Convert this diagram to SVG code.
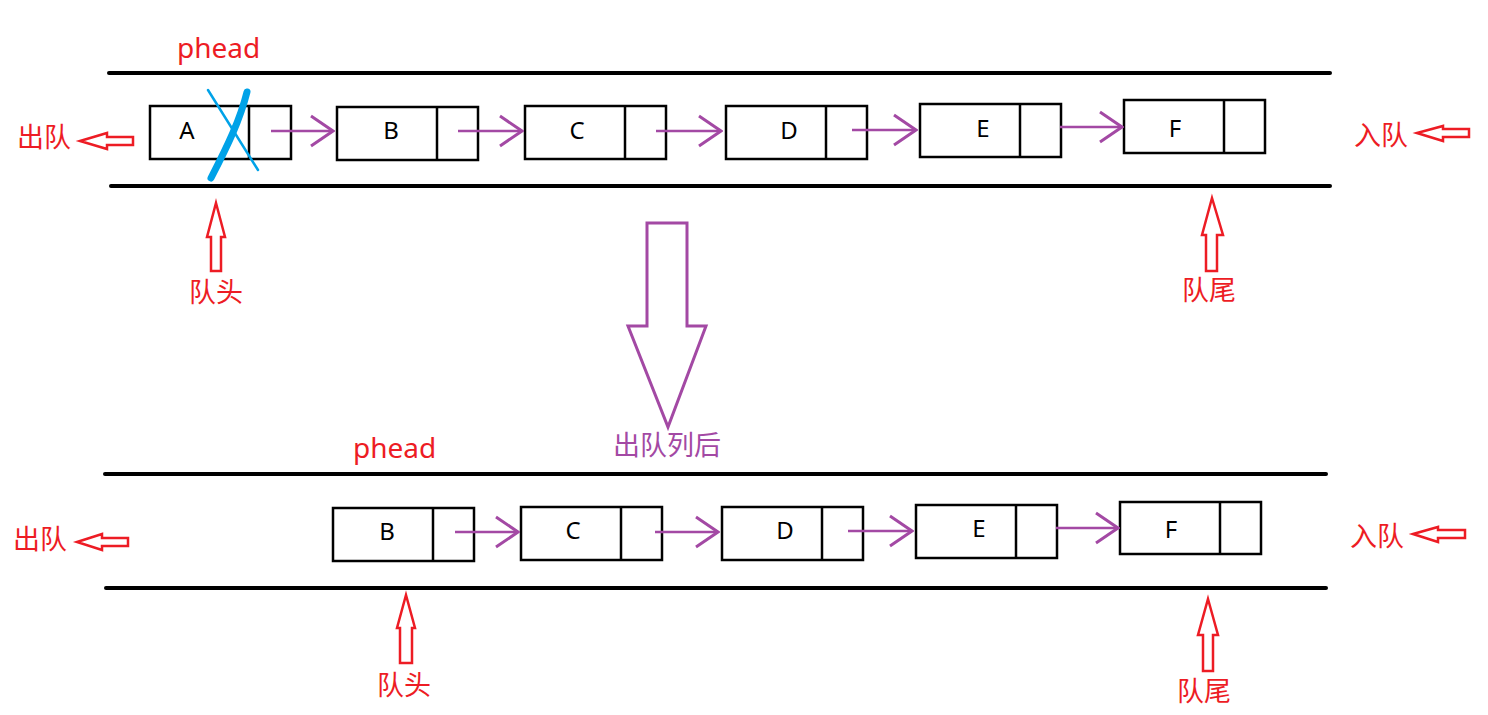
<svg xmlns="http://www.w3.org/2000/svg" width="1488" height="715" viewBox="0 0 1488 715">
<style>
.rail{stroke:#000;stroke-width:4;stroke-linecap:round}
.box{fill:#fff;stroke:#000;stroke-width:2.5}
.div{stroke:#000;stroke-width:2.5}
.lbl{font-family:"Noto Sans","Liberation Sans",sans-serif;font-size:24px;fill:#000;text-anchor:middle}
.red{font-family:"Noto Sans","Noto Sans CJK SC",sans-serif;font-size:27px;fill:#ed1c24}
.ph{font-family:"Noto Sans","Liberation Sans",sans-serif;font-size:28px;fill:#ed1c24}
.pur{font-family:"Noto Sans","Noto Sans CJK SC",sans-serif;font-size:27px;fill:#a349a4}
.hollow{fill:#fff;stroke:#ed1c24;stroke-width:2.5}
.link{stroke:#a349a4;stroke-width:2.5;fill:none;marker-end:url(#ah)}
</style>
<defs>
<marker id="ah" viewBox="0 0 26 34" refX="24" refY="17" markerWidth="26" markerHeight="34" markerUnits="userSpaceOnUse" orient="auto">
<path d="M2,2 L24,17 L2,32" fill="none" stroke="#a349a4" stroke-width="3"/>
</marker>
</defs>
<g id="rails">
<line class="rail" x1="109" y1="73" x2="1330" y2="73"/>
<line class="rail" x1="111" y1="186" x2="1330" y2="186"/>
<line class="rail" x1="105" y1="474" x2="1326" y2="474"/>
<line class="rail" x1="106" y1="588" x2="1326" y2="588"/>
</g>
<g id="labels">
<text class="ph" x="177" y="58">phead</text>
<text class="ph" x="353" y="458">phead</text>
<text class="red" x="17" y="147">出队</text>
<text class="red" x="13" y="549">出队</text>
<text class="red" x="1354" y="145">入队</text>
<text class="red" x="1350" y="546">入队</text>
<text class="red" x="189" y="302">队头</text>
<text class="red" x="377" y="695">队头</text>
<text class="red" x="1182" y="300">队尾</text>
<text class="red" x="1177" y="701">队尾</text>
<text class="pur" x="613" y="455">出队列后</text>
</g>
<g id="red-arrows">
<path class="hollow" d="M80,141 L107,133 L107,137 L133,137 L133,145 L107,145 L107,149 Z"/>
<path class="hollow" d="M77,542 L102,534 L102,538 L128,538 L128,546 L102,546 L102,550 Z"/>
<path class="hollow" d="M1417,133 L1443,126 L1443,129 L1469,129 L1469,137 L1443,137 L1443,141 Z"/>
<path class="hollow" d="M1413,534 L1438,527 L1438,530 L1465,530 L1465,538 L1438,538 L1438,542 Z"/>
<path class="hollow" d="M216,203 L225,237 L221,237 L221,271 L211,271 L211,237 L207,237 Z"/>
<path class="hollow" d="M406,595 L415,628 L412,628 L412,663 L400,663 L400,628 L397,628 Z"/>
<path class="hollow" d="M1212,198 L1223,235 L1217,235 L1217,271 L1206,271 L1206,235 L1202,235 Z"/>
<path class="hollow" d="M1208,599 L1218,635 L1213,635 L1213,671 L1203,671 L1203,635 L1198,635 Z"/>
</g>
<g id="big-arrow">
<path d="M647,223 L687,223 L687,326 L706,326 L668,427 L628,326 L647,326 Z" fill="#fff" stroke="#a349a4" stroke-width="3"/>
</g>
<g id="node-A"><rect class="box" x="150" y="106" width="141" height="53"/><line class="div" x1="249" y1="106" x2="249" y2="159"/><text class="lbl" x="187" y="139">A</text></g>
<g id="node-B1"><rect class="box" x="337" y="107" width="141" height="53"/><line class="div" x1="437" y1="107" x2="437" y2="160"/><text class="lbl" x="391" y="139">B</text></g>
<g id="node-C1"><rect class="box" x="525" y="106" width="141" height="53"/><line class="div" x1="625" y1="106" x2="625" y2="159"/><text class="lbl" x="577" y="139">C</text></g>
<g id="node-D1"><rect class="box" x="726" y="106" width="141" height="53"/><line class="div" x1="826" y1="106" x2="826" y2="159"/><text class="lbl" x="789" y="139">D</text></g>
<g id="node-E1"><rect class="box" x="920" y="104" width="141" height="53"/><line class="div" x1="1020" y1="104" x2="1020" y2="157"/><text class="lbl" x="983" y="137">E</text></g>
<g id="node-F1"><rect class="box" x="1124" y="100" width="141" height="53"/><line class="div" x1="1224" y1="100" x2="1224" y2="153"/><text class="lbl" x="1175" y="137">F</text></g>
<g id="cross">
<line x1="208" y1="90" x2="258" y2="170" stroke="#00a2e8" stroke-width="2.5" stroke-linecap="round"/>
<path d="M247,92 C240,120 228,145 211,178" fill="none" stroke="#00a2e8" stroke-width="7" stroke-linecap="round"/>
</g>
<g id="node-B2"><rect class="box" x="333" y="508" width="141" height="53"/><line class="div" x1="433" y1="508" x2="433" y2="561"/><text class="lbl" x="387" y="540">B</text></g>
<g id="node-C2"><rect class="box" x="521" y="507" width="141" height="53"/><line class="div" x1="621" y1="507" x2="621" y2="560"/><text class="lbl" x="573" y="539">C</text></g>
<g id="node-D2"><rect class="box" x="722" y="507" width="141" height="53"/><line class="div" x1="822" y1="507" x2="822" y2="560"/><text class="lbl" x="785" y="539">D</text></g>
<g id="node-E2"><rect class="box" x="916" y="505" width="141" height="53"/><line class="div" x1="1016" y1="505" x2="1016" y2="558"/><text class="lbl" x="979" y="537">E</text></g>
<g id="node-F2"><rect class="box" x="1120" y="502" width="141" height="52"/><line class="div" x1="1220" y1="502" x2="1220" y2="554"/><text class="lbl" x="1171" y="538">F</text></g>
<g id="connectors">
<line class="link" x1="271" y1="131" x2="333" y2="131"/>
<line class="link" x1="458" y1="131" x2="522" y2="131"/>
<line class="link" x1="656" y1="131" x2="721" y2="131"/>
<line class="link" x1="852" y1="130" x2="916" y2="130"/>
<line class="link" x1="1060" y1="127" x2="1122" y2="127"/>
<line class="link" x1="455" y1="532" x2="518" y2="532"/>
<line class="link" x1="655" y1="532" x2="718" y2="532"/>
<line class="link" x1="848" y1="531" x2="912" y2="531"/>
<line class="link" x1="1056" y1="528" x2="1118" y2="528"/>
</g>
</svg>
